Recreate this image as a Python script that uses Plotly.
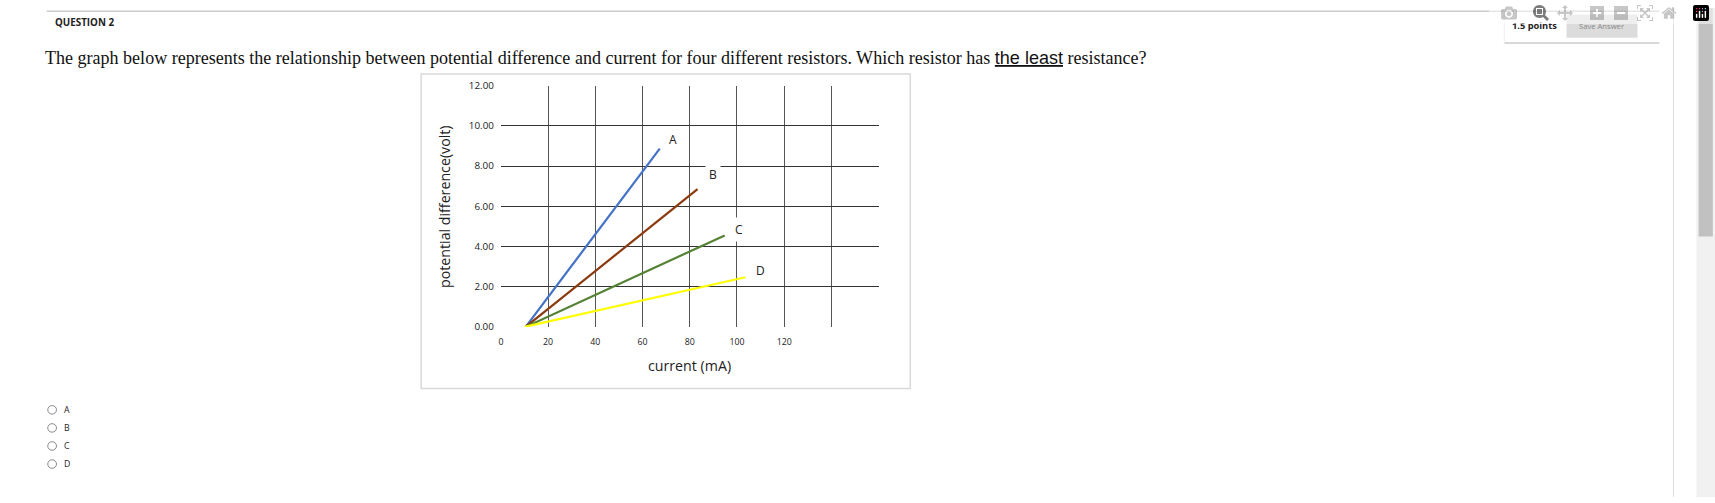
import plotly.graph_objects as go

# data
series_names = ["A", "B", "C", "D"]
series_colors = ["#4472C4", "#8B3A0F", "#548235", "#FFFF00"]
current_start = [10.5, 10.5, 10.5, 10.0]
voltage_start = [0.0, 0.0, 0.0, 0.0]
current_end = [67.3, 83.3, 94.8, 103.6]
voltage_end = [8.87, 6.85, 4.55, 2.47]
label_x = [73, 90, 101, 110]
label_y = [9.3, 7.6, 4.85, 2.8]
x_tick_vals = [0, 20, 40, 60, 80, 100, 120]
y_tick_vals = [0, 2, 4, 6, 8, 10, 12]
options = ["A", "B", "C", "D"]

W0, H0 = 1568.0, 460.0
def px(x): return x / W0
def py(y): return 1 - y / H0
S = 1715 / W0

fig = go.Figure()
for n, c, x0, y0, x1, y1 in zip(series_names, series_colors, current_start, voltage_start, current_end, voltage_end):
    fig.add_trace(go.Scatter(x=[x0, x1], y=[y0, y1], mode="lines", line=dict(color=c, width=2.2),
                             name=n, showlegend=False, hoverinfo="skip", cliponaxis=False))

for n, lx, ly in zip(series_names, label_x, label_y):
    fig.add_annotation(x=lx, y=ly, xref="x", yref="y", text=n, showarrow=False,
                       font=dict(family="Open Sans", size=11 * S, color="#222"),
                       bgcolor="white", borderpad=3)

shapes = []
shapes.append(dict(type="rect", xref="paper", yref="paper", x0=px(383), x1=px(831), y0=py(358), y1=py(62),
                   line=dict(color="#d9d9d9", width=1.5), layer="below"))
shapes.append(dict(type="line", xref="paper", yref="paper", x0=px(40), x1=px(1517), y0=py(3), y1=py(3),
                   line=dict(color="#cccccc", width=1.5)))
shapes.append(dict(type="line", xref="paper", yref="paper", x0=px(1375), x1=px(1517), y0=py(33), y1=py(33),
                   line=dict(color="#cccccc", width=1.5)))
shapes.append(dict(type="line", xref="paper", yref="paper", x0=px(1375), x1=px(1375), y0=py(3), y1=py(33),
                   line=dict(color="#eeeeee", width=1)))
shapes.append(dict(type="line", xref="paper", yref="paper", x0=px(1530), x1=px(1530), y0=py(0), y1=py(460),
                   line=dict(color="#dddddd", width=1)))
shapes.append(dict(type="rect", xref="paper", yref="paper", x0=px(1432), x1=px(1497), y0=py(28), y1=py(6),
                   line=dict(width=0), fillcolor="#dcdcdc"))
shapes.append(dict(type="rect", xref="paper", yref="paper", x0=px(1551), x1=1, y0=0, y1=1,
                   line=dict(width=0), fillcolor="#f1f1f1"))
shapes.append(dict(type="rect", xref="paper", yref="paper", x0=px(1553), x1=px(1566), y0=py(215), y1=py(0),
                   line=dict(width=0), fillcolor="#c1c1c1"))
for i, o in enumerate(options):
    yy = 378 + i * 17
    shapes.append(dict(type="circle", xref="paper", yref="paper", x0=px(41), x1=px(49), y0=py(yy + 4), y1=py(yy - 4),
                       line=dict(color="#888", width=1), fillcolor="white"))
    fig.add_annotation(x=px(54), y=py(yy), xref="paper", yref="paper", text=o, showarrow=False,
                       xanchor="left", yanchor="middle", font=dict(family="Open Sans", size=8 * S, color="#222"))

fig.add_annotation(x=px(46), y=py(13), xref="paper", yref="paper", text="<b>QUESTION 2</b>", showarrow=False,
                   xanchor="left", yanchor="middle", font=dict(family="Open Sans", size=9 * S, color="#222"))
fig.add_annotation(x=px(1425), y=py(16), xref="paper", yref="paper", text="<b>1.5 points</b>", showarrow=False,
                   xanchor="right", yanchor="middle", font=dict(family="Open Sans", size=8.5 * S, color="#222"))
fig.add_annotation(x=px(1464.5), y=py(17), xref="paper", yref="paper", text="Save Answer", showarrow=False,
                   xanchor="center", yanchor="middle", font=dict(family="Open Sans", size=7 * S, color="#888"))
fig.add_annotation(x=px(37), y=py(47), xref="paper", yref="paper",
                   text="The graph below represents the relationship between potential difference and current for four different resistors. Which resistor has "
                        "<span style='font-family:Liberation Sans'><u>the least</u></span> resistance?",
                   showarrow=False, xanchor="left", yanchor="middle",
                   font=dict(family="Liberation Serif", size=16.5 * S, color="#111"))
fig.add_annotation(x=px(629), y=py(336), xref="paper", yref="paper", text="current (mA)", showarrow=False,
                   xanchor="center", yanchor="middle", font=dict(family="Open Sans", size=13 * S, color="#222"))
fig.add_annotation(x=px(405), y=py(187), xref="paper", yref="paper", text="potential difference(volt)", showarrow=False,
                   textangle=-90, xanchor="center", yanchor="middle", font=dict(family="Open Sans", size=13 * S, color="#222"))

fig.update_layout(
    width=1715, height=503, margin=dict(l=0, r=0, t=0, b=0),
    paper_bgcolor="white", plot_bgcolor="white", shapes=shapes,
    xaxis=dict(domain=[px(456), px(802)], range=[0, 160], tickvals=x_tick_vals, ticktext=[str(v) for v in x_tick_vals],
               showgrid=False, zeroline=False, showline=False, ticks="", ticklabelstandoff=8,
               tickfont=dict(family="Open Sans", size=8 * S, color="#222"),
               minor=dict(tickvals=[20, 40, 60, 80, 100, 120, 140, 160], showgrid=True, gridcolor="#555", gridwidth=1)),
    yaxis=dict(domain=[py(300), py(73)], range=[0, 12], tickvals=y_tick_vals,
               ticktext=["%.2f" % v for v in y_tick_vals], showgrid=True, gridcolor="#333", gridwidth=1,
               zeroline=False, showline=False, ticks="", ticklabelstandoff=6,
               tickfont=dict(family="Open Sans", size=9 * S, color="#222")),
)
fig.write_html("out.html", post_script="document.body.style.margin='0';document.body.style.overflow='hidden';")
